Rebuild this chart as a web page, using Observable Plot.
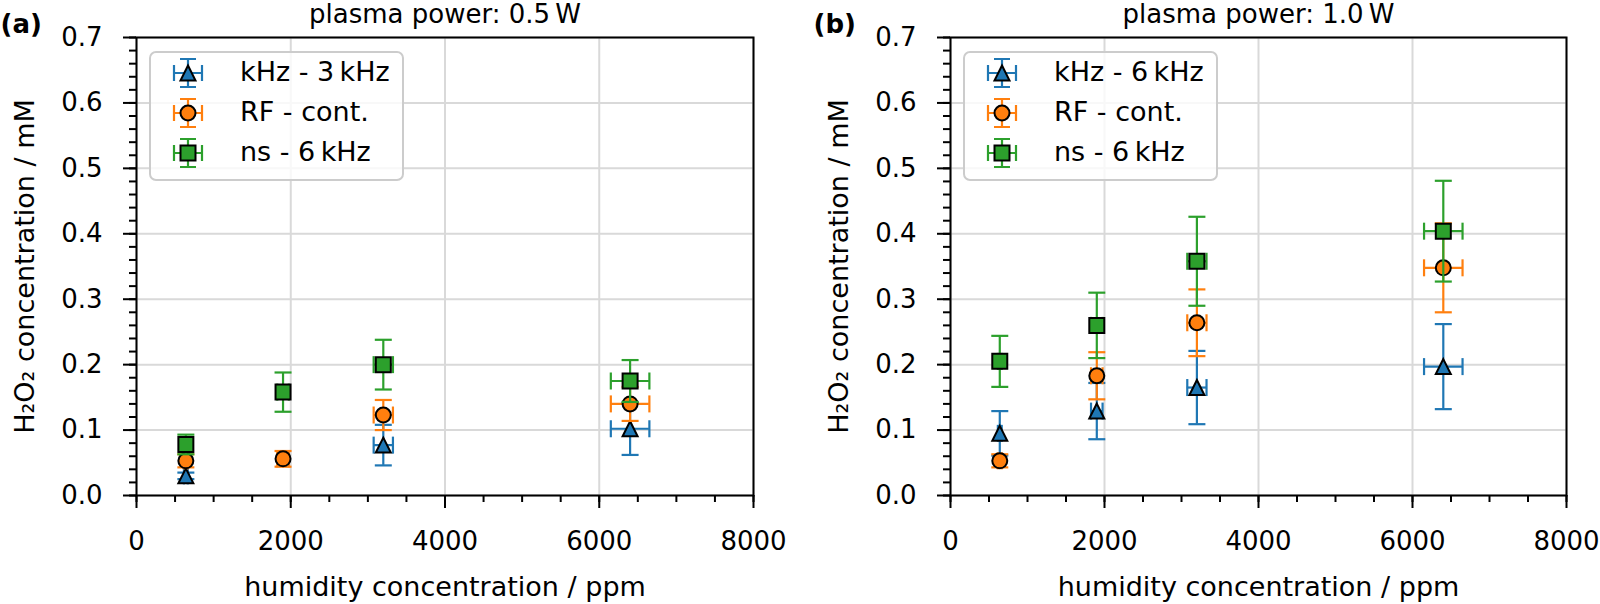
<!DOCTYPE html>
<html>
<head>
<meta charset="utf-8">
<script src="https://cdn.jsdelivr.net/npm/d3@7"></script>
<script src="https://cdn.jsdelivr.net/npm/@observablehq/plot@0.6"></script>
<style>
  body { margin: 0; background: #fff; }
  #figure { display: flex; width: 1600px; height: 604px; }
  #figure svg { display: block; }
</style>
</head>
<body>
<div id="figure"></div>
<script>
// Humidity set-points (ppm) and their uncertainty
const humidity = [640, 1900, 3200, 6400];
const humidityErr = [25, 75, 125, 250];

// H2O2 concentration (mM) at 0.5 W plasma power
const khz05 = [0.030, null, 0.077, 0.102];
const khz05Err = [0.005, null, 0.031, 0.040];
const rf05 = [0.053, 0.056, 0.123, 0.140];
const rf05Err = [0.010, 0.012, 0.023, 0.026];
const ns05 = [0.078, 0.158, 0.200, 0.175];
const ns05Err = [0.015, 0.030, 0.038, 0.032];

// H2O2 concentration (mM) at 1.0 W plasma power
const khz10 = [0.095, 0.129, 0.165, 0.197];
const khz10Err = [0.034, 0.043, 0.056, 0.065];
const rf10 = [0.053, 0.183, 0.264, 0.348];
const rf10Err = [0.010, 0.036, 0.051, 0.068];
const ns10 = [0.205, 0.260, 0.358, 0.404];
const ns10Err = [0.039, 0.050, 0.068, 0.077];

// Axis ticks
const xMajor = [0, 2000, 4000, 6000, 8000];
const xMinor = d3.range(0, 8001, 500);
const yMajor = [0, 0.1, 0.2, 0.3, 0.4, 0.5, 0.6, 0.7];
const yMinor = d3.range(0, 71, 2).map(v => v / 100);

const xLabel = "humidity concentration / ppm";
const yLabel = "H\u2082O\u2082 concentration / mM";

const FONT = "DejaVu Sans";
const BLUE = "#1f77b4", ORANGE = "#ff7f0e", GREEN = "#2ca02c";

// Marker shapes sized by radius (Plot passes size = r²·π)
const rad = size => Math.sqrt(size / Math.PI);
const triangleUp = {draw(c, s) { const r = rad(s); c.moveTo(0, -r); c.lineTo(r, r); c.lineTo(-r, r); c.closePath(); }};
const squareMark = {draw(c, s) { const r = rad(s); c.moveTo(-r, -r); c.lineTo(r, -r); c.lineTo(r, r); c.lineTo(-r, r); c.closePath(); }};
const circleMark = {draw(c, s) { const r = rad(s); c.moveTo(r, 0); c.arc(0, 0, r, 0, 2 * Math.PI); c.closePath(); }};
const capH = {draw(c, s) { const r = rad(s); c.moveTo(-r, 0); c.lineTo(r, 0); }};
const capV = {draw(c, s) { const r = rad(s); c.moveTo(0, -r); c.lineTo(0, r); }};

function rowsOf(values, errors) {
  const rows = [];
  values.forEach((v, i) => {
    if (v == null) return;
    rows.push({x: humidity[i], xe: humidityErr[i], y: v, ye: errors[i]});
  });
  return rows;
}

function seriesMarks(rows, color, symbol) {
  const line = {stroke: color, strokeWidth: 2.2};
  return [
    Plot.ruleX(rows, {x: "x", y1: d => d.y - d.ye, y2: d => d.y + d.ye, ...line}),
    Plot.ruleY(rows, {y: "y", x1: d => d.x - d.xe, x2: d => d.x + d.xe, ...line}),
    Plot.dot(rows, {x: "x", y: d => d.y + d.ye, symbol: capH, r: 8.5, fill: "none", ...line}),
    Plot.dot(rows, {x: "x", y: d => d.y - d.ye, symbol: capH, r: 8.5, fill: "none", ...line}),
    Plot.dot(rows, {x: d => d.x - d.xe, y: "y", symbol: capV, r: 8.5, fill: "none", ...line}),
    Plot.dot(rows, {x: d => d.x + d.xe, y: "y", symbol: capV, r: 8.5, fill: "none", ...line}),
    Plot.dot(rows, {x: "x", y: "y", symbol, r: 7.5, fill: color, stroke: "black", strokeWidth: 2})
  ];
}

function drawLegend(svg, left, top, entries) {
  const g = d3.select(svg).append("g")
    .attr("font-family", FONT).attr("font-size", 27).attr("text-anchor", "start");
  g.append("rect")
    .attr("x", left).attr("y", top).attr("width", 253).attr("height", 128)
    .attr("rx", 6).attr("fill", "white").attr("fill-opacity", 0.8)
    .attr("stroke", "#cccccc").attr("stroke-width", 2);
  entries.forEach((e, k) => {
    const cx = left + 38, cy = top + 21 + k * 40;
    const item = g.append("g").attr("transform", `translate(${cx},${cy})`)
      .attr("stroke", e.color).attr("stroke-width", 2.2).attr("fill", "none");
    item.append("path").attr("d", "M-14,0H14M-14,-8V8M14,-8V8M0,-14V14M-8,-14H8M-8,14H8");
    item.append("path").attr("d", d3.symbol(e.symbol, 7.5 * 7.5 * Math.PI)())
      .attr("fill", e.color).attr("stroke", "black").attr("stroke-width", 2);
    g.append("text").attr("x", left + 90).attr("y", cy + 8)
      .attr("fill", "black").text(e.name);
  });
}

function panel({tag, title, series, marginLeft, marginRight, tagDx}) {
  const marks = [
    Plot.gridX({ticks: xMajor, stroke: "#d9d9d9", strokeOpacity: 1, strokeWidth: 2}),
    Plot.gridY({ticks: yMajor, stroke: "#d9d9d9", strokeOpacity: 1, strokeWidth: 2})
  ];
  for (const s of series) marks.push(...seriesMarks(rowsOf(s.values, s.errors), s.color, s.symbol));
  marks.push(
    Plot.axisX({ticks: xMinor, tickSize: 7, strokeWidth: 2, tickFormat: () => "", label: null}),
    Plot.axisX({ticks: xMajor, tickSize: 13, tickPadding: 23, strokeWidth: 2, fontSize: 26,
                tickFormat: d3.format("d"), label: null}),
    Plot.axisY({ticks: yMinor, tickSize: 7, strokeWidth: 2, tickFormat: () => "", label: null}),
    Plot.axisY({ticks: yMajor, tickSize: 13, tickPadding: 21, strokeWidth: 2, fontSize: 26,
                tickFormat: d3.format(".1f"), label: null}),
    Plot.frame({stroke: "black", strokeWidth: 2}),
    Plot.text([title], {text: d => d, frameAnchor: "top", lineAnchor: "bottom", dy: -15, fontSize: 26}),
    Plot.text([tag], {text: d => d, frameAnchor: "top-left", textAnchor: "start", lineAnchor: "bottom",
                      dx: tagDx, dy: -5, fontSize: 26, fontWeight: "bold"}),
    Plot.text([yLabel], {text: d => d, frameAnchor: "left", textAnchor: "middle", rotate: -90,
                         dx: -111, fontSize: 27}),
    Plot.text([xLabel], {text: d => d, frameAnchor: "bottom", lineAnchor: "bottom", dy: 100, fontSize: 27})
  );
  const svg = Plot.plot({
    width: 800,
    height: 604,
    marginTop: 37,
    marginBottom: 109,
    marginLeft,
    marginRight,
    x: {domain: [0, 8000]},
    y: {domain: [0, 0.7]},
    style: {fontFamily: FONT, fontSize: "26px", background: "white", overflow: "visible"},
    marks
  });
  drawLegend(svg, marginLeft + 14, 37 + 15, series);
  return svg;
}

const fig = document.getElementById("figure");
fig.append(panel({
  tag: "(a)",
  title: "plasma power: 0.5\u2009W",
  marginLeft: 136, marginRight: 47, tagDx: -136,
  series: [
    {name: "kHz - 3\u2009kHz", values: khz05, errors: khz05Err, color: BLUE, symbol: triangleUp},
    {name: "RF - cont.", values: rf05, errors: rf05Err, color: ORANGE, symbol: circleMark},
    {name: "ns - 6\u2009kHz", values: ns05, errors: ns05Err, color: GREEN, symbol: squareMark}
  ]
}));
fig.append(panel({
  tag: "(b)",
  title: "plasma power: 1.0\u2009W",
  marginLeft: 150, marginRight: 34, tagDx: -137,
  series: [
    {name: "kHz - 6\u2009kHz", values: khz10, errors: khz10Err, color: BLUE, symbol: triangleUp},
    {name: "RF - cont.", values: rf10, errors: rf10Err, color: ORANGE, symbol: circleMark},
    {name: "ns - 6\u2009kHz", values: ns10, errors: ns10Err, color: GREEN, symbol: squareMark}
  ]
}));
</script>
</body>
</html>
